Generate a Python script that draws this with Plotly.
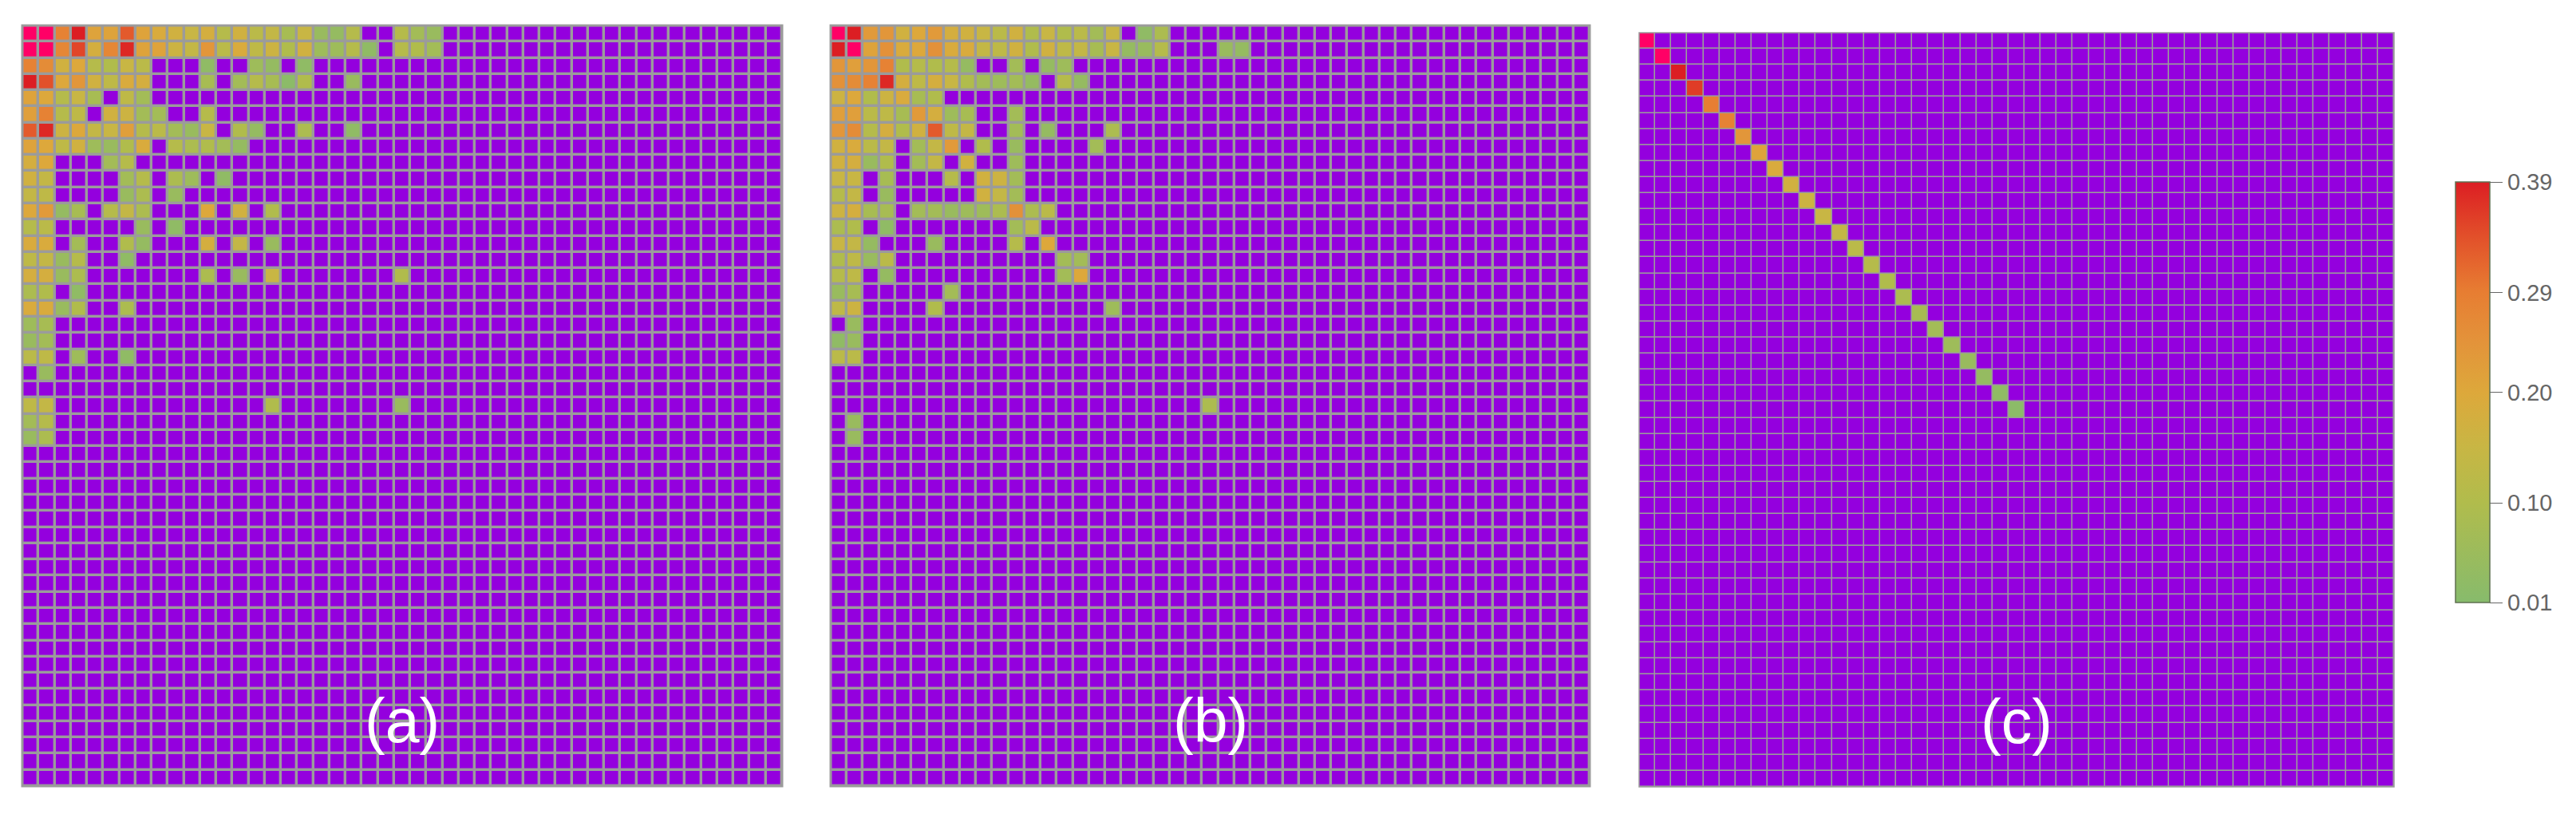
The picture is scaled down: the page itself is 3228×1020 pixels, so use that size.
import plotly.graph_objects as go

W, H = 3228, 1020
N = 47
P = 0.42  # above the colour bar's top: drawn pink

rows_a = [
 [P,P,.28,.39,.21,.21,.33,.21,.19,.17,.15,.18,.11,.17,.12,.14,.08,.15,.05,.04,.11,0,0,.11,.07,.05],
 [P,P,.27,.35,.18,.27,.38,.21,.21,.16,.14,.24,.12,.19,.13,.16,.10,.17,.06,.06,.11,.03,0,.11,.10,.07],
 [.28,.26,.17,.2,.11,.10,.15,.12,0,0,0,.03,0,0,.06,.04,0,.03],
 [.39,.34,.2,.24,.17,.13,.19,.18,0,0,0,.08,0,.07,.11,.08,.02,.10,0,0,.05],
 [.21,.2,.11,.15,.08,0,.13,.07],
 [.22,.28,.11,.13,0,.17,.16,.07,.07,0,0,.11],
 [.33,.38,.16,.2,.14,.15,.22,.11,.12,.07,.05,.15,0,.10,.04,0,0,.09,0,0,.03],
 [.21,.2,.13,.17,.06,.05,.10,.19,0,.11,.09,.10,.07,.04],
 [.18,.2,0,0,0,.07,.11],
 [.17,.14,0,0,0,0,.07,.11,0,.09,.06,0,.03],
 [.14,.13,0,0,0,0,.05,.09,0,.05],
 [.2,.23,.04,.08,0,.11,.14,.09,0,0,0,.2,0,.17,0,.10],
 [.11,.12,0,0,0,0,0,.05,0,.03],
 [.19,.19,0,.07,0,0,.10,.04,0,0,0,.18,0,.14,0,.05],
 [.13,.14,.05,.11,0,0,.03],
 [.18,.18,.05,.09,0,0,0,0,0,0,0,.09,0,.05,0,.15,0,0,0,0,0,0,0,.10],
 [.09,.10,0,.03],
 [.19,.19,.05,.10,0,0,.09],
 [.06,.08],
 [.05,.07],
 [.12,.13,0,.06,0,0,.03],
 [0,.05],
 [],
 [.13,.14,0,0,0,0,0,0,0,0,0,0,0,0,0,.10,0,0,0,0,0,0,0,.05],
 [.07,.11],
 [.05,.09],
]

rows_b = [
 [P,.39,.23,.24,.17,.2,.23,.18,.17,.15,.12,.17,.10,.15,.10,.12,.07,.15,0,.03,.09],
 [.39,P,.21,.25,.19,.2,.25,.19,.19,.14,.13,.17,.10,.17,.13,.14,.08,.15,.04,.05,.11,0,0,0,.05,.04],
 [.24,.22,.24,.28,.10,.11,.10,.11,.04,0,0,.07,0,.04,.06],
 [.25,.26,.28,.38,.18,.13,.18,.15,.10,.07,.06,.07,.04,0,.11,.04],
 [.16,.2,.10,.16,.19,.08,.10],
 [.22,.22,.12,.13,.08,.23,.18,.06,.08,0,0,.07],
 [.24,.26,.11,.18,.10,.17,.33,.13,.14,0,0,.07,0,.04,0,0,0,.09],
 [.17,.19,.12,.14,0,.07,.14,.23,0,.10,0,.05,0,0,0,0,.07],
 [.17,.18,.05,.10,0,.07,.14,0,.17,0,0,.06],
 [.15,.15,0,.08,0,0,0,.11,0,.17,.16,.07],
 [.11,.14,0,.05,0,0,0,0,0,.17,.14,.07],
 [.16,.18,.08,.08,0,.07,.07,.05,.06,.06,.09,.25,.09,.12],
 [.09,.10,0,.03,0,0,0,0,0,0,0,.07,.12],
 [.15,.14,.04,0,0,0,.05,0,0,0,0,.11,0,.2],
 [.10,.13,.05,.12,0,0,0,0,0,0,0,0,0,0,.07,.07],
 [.11,.13,0,.04,0,0,0,0,0,0,0,0,0,0,.07,.2],
 [.05,.08,0,0,0,0,0,.07],
 [.13,.16,0,0,0,0,.10,0,0,0,0,0,0,0,0,0,0,.06],
 [0,.05],
 [.03,.05],
 [.12,.12],
 [],
 [],
 [0,0,0,0,0,0,0,0,0,0,0,0,0,0,0,0,0,0,0,0,0,0,0,.09],
 [0,.05],
 [0,.05],
]

diag_c = [P,P,.39,.36,.29,.28,.24,.21,.19,.17,.16,.15,.14,.12,.11,.10,.09,.08,.07,.06,.05,.04,.03,.02]

tick_vals = [0.01, 0.10, 0.20, 0.29, 0.39]
tick_text = ["0.01", "0.10", "0.20", "0.29", "0.39"]
panel_labels = ["(a)", "(b)", "(c)"]

PURPLE = "#9400DE"
PINK = "#FF0066"
GRID = "#9B9B9B"
ramp = [(0.0, "#87BB6C"), (0.24, "#B1BC4C"), (0.37, "#C8B644"), (0.5, "#DDA83B"),
        (0.62, "#E3933A"), (0.74, "#E77D32"), (0.87, "#E2502A"), (1.0, "#DC1E23")]


def pad(rows):
    out = [list(r) + [0] * (N - len(r)) for r in rows]
    out += [[0] * N for _ in range(N - len(out))]
    return out


z_a = pad(rows_a)
z_b = pad(rows_b)
z_c = [[diag_c[i] if i == j and i < len(diag_c) else 0 for j in range(N)] for i in range(N)]

lo, hi, zmax = 0.01, 0.39, 0.45
def frac(v):
    return v / zmax
full_scale = [(0, PURPLE), (frac(lo) - 1e-4, PURPLE)]
full_scale += [(frac(lo + t * (hi - lo)), c) for t, c in ramp]
full_scale += [(frac(hi) + 1e-4, PINK), (1, PINK)]

panels = [
    (z_a, 28, 980, 32, 985, 3.4, 3, 504, 903),
    (z_b, 1041, 1992, 32, 985, 3.4, 3, 1517, 903),
    (z_c, 2054, 3000, 41, 986, 1.6, 1.5, 2527, 904),
]

fig = go.Figure()
layout = dict(
    width=W, height=H, margin=dict(l=0, r=0, t=0, b=0, pad=0),
    paper_bgcolor="white", plot_bgcolor=GRID, showlegend=False,
    font=dict(family="Liberation Sans"),
)
shapes, annos = [], []
for i, (z, x0, x1, y0, y1, gap, edge, lx, ly) in enumerate(panels):
    n = "" if i == 0 else str(i + 1)
    fig.add_trace(go.Heatmap(
        z=z, xaxis="x" + n, yaxis="y" + n, zmin=0, zmax=zmax,
        colorscale=full_scale, showscale=False, xgap=gap, ygap=gap, hoverinfo="skip",
    ))
    layout["xaxis" + n] = dict(domain=[x0 / W, x1 / W], range=[-0.5, N - 0.5], visible=False,
                               anchor="y" + n, fixedrange=True)
    layout["yaxis" + n] = dict(domain=[1 - y1 / H, 1 - y0 / H], range=[N - 0.5, -0.5], visible=False,
                               anchor="x" + n, fixedrange=True)
    shapes.append(dict(type="rect", xref="paper", yref="paper", x0=x0 / W, x1=x1 / W,
                       y0=1 - y1 / H, y1=1 - y0 / H, fillcolor="rgba(0,0,0,0)",
                       line=dict(width=edge, color=GRID), layer="above"))
    annos.append(dict(text=panel_labels[i], xref="paper", yref="paper", x=lx / W, y=1 - ly / H,
                      xanchor="center", yanchor="middle", showarrow=False,
                      font=dict(size=77, color="white", family="Liberation Sans")))

fig.add_trace(go.Scatter(
    x=[None], y=[None], mode="markers", hoverinfo="skip",
    marker=dict(
        color=[lo], cmin=lo, cmax=hi, colorscale=ramp, showscale=True,
        colorbar=dict(
            x=3077 / W, xanchor="left", y=1 - 755 / H, yanchor="bottom",
            lenmode="pixels", len=527, thicknessmode="pixels", thickness=43,
            tickmode="array", tickvals=tick_vals, ticktext=tick_text,
            ticks="outside", ticklen=16, tickwidth=1, tickcolor="#666666",
            tickfont=dict(size=29, color="#666666", family="Liberation Sans"),
            outlinecolor="#5F7050", outlinewidth=1.5, borderwidth=0, xpad=0, ypad=0,
        ),
    ),
))

fig.update_layout(**layout, shapes=shapes, annotations=annos)
fig.write_html("out.html", config={"displayModeBar": False},
               post_script="document.body.style.margin='0';")
